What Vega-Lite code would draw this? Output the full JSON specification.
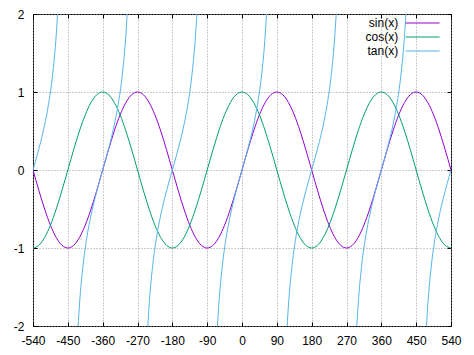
{
 "$schema": "https://vega.github.io/schema/vega-lite/v6.json",
 "width": 418, "height": 312,
 "autosize": {"type": "none"},
 "padding": {"left": 33, "top": 14, "right": 23, "bottom": 29},
 "background": "white",
 "config": {
  "font": "Liberation Sans",
  "view": {"stroke": "#000", "strokeWidth": 1},
  "axis": {"domain": false, "tickColor": "#000", "tickSize": -4, "labelOverlap": false, "labelFlush": false, "labelExpr": "'' + datum.value", "labelFont": "Liberation Sans", "labelFontSize": 12, "labelColor": "#000", "gridColor": "#999", "gridDash": [1, 2], "gridWidth": 1, "title": null},
  "legend": {"orient": "none", "legendX": 383.6, "legendY": 3, "symbolType": "M-5,0H5", "symbolSize": 46, "symbolStrokeWidth": 1, "labelAlign": "right", "labelOffset": -30.4, "labelFont": "Liberation Sans", "labelFontSize": 12, "labelColor": "#000", "padding": 0, "rowPadding": 2, "title": null}
 },
 "datasets": {
  "sc": [
   {"x":-540,"s":0,"c":-1},{"x":-525,"s":-0.2588,"c":-0.9659},{"x":-510,"s":-0.5,"c":-0.866},{"x":-495,"s":-0.7071,"c":-0.7071},{"x":-480,"s":-0.866,"c":-0.5},{"x":-465,"s":-0.9659,"c":-0.2588},{"x":-450,"s":-1,"c":0},{"x":-435,"s":-0.9659,"c":0.2588},{"x":-420,"s":-0.866,"c":0.5},{"x":-405,"s":-0.7071,"c":0.7071},{"x":-390,"s":-0.5,"c":0.866},{"x":-375,"s":-0.2588,"c":0.9659},
   {"x":-360,"s":0,"c":1},{"x":-345,"s":0.2588,"c":0.9659},{"x":-330,"s":0.5,"c":0.866},{"x":-315,"s":0.7071,"c":0.7071},{"x":-300,"s":0.866,"c":0.5},{"x":-285,"s":0.9659,"c":0.2588},{"x":-270,"s":1,"c":0},{"x":-255,"s":0.9659,"c":-0.2588},{"x":-240,"s":0.866,"c":-0.5},{"x":-225,"s":0.7071,"c":-0.7071},{"x":-210,"s":0.5,"c":-0.866},{"x":-195,"s":0.2588,"c":-0.9659},
   {"x":-180,"s":0,"c":-1},{"x":-165,"s":-0.2588,"c":-0.9659},{"x":-150,"s":-0.5,"c":-0.866},{"x":-135,"s":-0.7071,"c":-0.7071},{"x":-120,"s":-0.866,"c":-0.5},{"x":-105,"s":-0.9659,"c":-0.2588},{"x":-90,"s":-1,"c":0},{"x":-75,"s":-0.9659,"c":0.2588},{"x":-60,"s":-0.866,"c":0.5},{"x":-45,"s":-0.7071,"c":0.7071},{"x":-30,"s":-0.5,"c":0.866},{"x":-15,"s":-0.2588,"c":0.9659},
   {"x":0,"s":0,"c":1},{"x":15,"s":0.2588,"c":0.9659},{"x":30,"s":0.5,"c":0.866},{"x":45,"s":0.7071,"c":0.7071},{"x":60,"s":0.866,"c":0.5},{"x":75,"s":0.9659,"c":0.2588},{"x":90,"s":1,"c":0},{"x":105,"s":0.9659,"c":-0.2588},{"x":120,"s":0.866,"c":-0.5},{"x":135,"s":0.7071,"c":-0.7071},{"x":150,"s":0.5,"c":-0.866},{"x":165,"s":0.2588,"c":-0.9659},
   {"x":180,"s":0,"c":-1},{"x":195,"s":-0.2588,"c":-0.9659},{"x":210,"s":-0.5,"c":-0.866},{"x":225,"s":-0.7071,"c":-0.7071},{"x":240,"s":-0.866,"c":-0.5},{"x":255,"s":-0.9659,"c":-0.2588},{"x":270,"s":-1,"c":0},{"x":285,"s":-0.9659,"c":0.2588},{"x":300,"s":-0.866,"c":0.5},{"x":315,"s":-0.7071,"c":0.7071},{"x":330,"s":-0.5,"c":0.866},{"x":345,"s":-0.2588,"c":0.9659},
   {"x":360,"s":0,"c":1},{"x":375,"s":0.2588,"c":0.9659},{"x":390,"s":0.5,"c":0.866},{"x":405,"s":0.7071,"c":0.7071},{"x":420,"s":0.866,"c":0.5},{"x":435,"s":0.9659,"c":0.2588},{"x":450,"s":1,"c":0},{"x":465,"s":0.9659,"c":-0.2588},{"x":480,"s":0.866,"c":-0.5},{"x":495,"s":0.7071,"c":-0.7071},{"x":510,"s":0.5,"c":-0.866},{"x":525,"s":0.2588,"c":-0.9659},
   {"x":540,"s":0,"c":-1}
  ],
  "tan": [
   {"b":1,"x":-540,"t":0},{"b":1,"x":-530,"t":0.1763},{"b":1,"x":-520,"t":0.364},{"b":1,"x":-510,"t":0.5774},{"b":1,"x":-500,"t":0.8391},{"b":1,"x":-490,"t":1.1918},{"b":1,"x":-480,"t":1.7321},{"b":1,"x":-475,"t":2.1445},
   {"b":2,"x":-425,"t":-2.1445},{"b":2,"x":-420,"t":-1.7321},{"b":2,"x":-410,"t":-1.1918},{"b":2,"x":-400,"t":-0.8391},{"b":2,"x":-390,"t":-0.5774},{"b":2,"x":-380,"t":-0.364},{"b":2,"x":-370,"t":-0.1763},{"b":2,"x":-360,"t":0},{"b":2,"x":-350,"t":0.1763},{"b":2,"x":-340,"t":0.364},{"b":2,"x":-330,"t":0.5774},{"b":2,"x":-320,"t":0.8391},{"b":2,"x":-310,"t":1.1918},{"b":2,"x":-300,"t":1.7321},{"b":2,"x":-295,"t":2.1445},
   {"b":3,"x":-245,"t":-2.1445},{"b":3,"x":-240,"t":-1.7321},{"b":3,"x":-230,"t":-1.1918},{"b":3,"x":-220,"t":-0.8391},{"b":3,"x":-210,"t":-0.5774},{"b":3,"x":-200,"t":-0.364},{"b":3,"x":-190,"t":-0.1763},{"b":3,"x":-180,"t":0},{"b":3,"x":-170,"t":0.1763},{"b":3,"x":-160,"t":0.364},{"b":3,"x":-150,"t":0.5774},{"b":3,"x":-140,"t":0.8391},{"b":3,"x":-130,"t":1.1918},{"b":3,"x":-120,"t":1.7321},{"b":3,"x":-115,"t":2.1445},
   {"b":4,"x":-65,"t":-2.1445},{"b":4,"x":-60,"t":-1.7321},{"b":4,"x":-50,"t":-1.1918},{"b":4,"x":-40,"t":-0.8391},{"b":4,"x":-30,"t":-0.5774},{"b":4,"x":-20,"t":-0.364},{"b":4,"x":-10,"t":-0.1763},{"b":4,"x":0,"t":0},{"b":4,"x":10,"t":0.1763},{"b":4,"x":20,"t":0.364},{"b":4,"x":30,"t":0.5774},{"b":4,"x":40,"t":0.8391},{"b":4,"x":50,"t":1.1918},{"b":4,"x":60,"t":1.7321},{"b":4,"x":65,"t":2.1445},
   {"b":5,"x":115,"t":-2.1445},{"b":5,"x":120,"t":-1.7321},{"b":5,"x":130,"t":-1.1918},{"b":5,"x":140,"t":-0.8391},{"b":5,"x":150,"t":-0.5774},{"b":5,"x":160,"t":-0.364},{"b":5,"x":170,"t":-0.1763},{"b":5,"x":180,"t":0},{"b":5,"x":190,"t":0.1763},{"b":5,"x":200,"t":0.364},{"b":5,"x":210,"t":0.5774},{"b":5,"x":220,"t":0.8391},{"b":5,"x":230,"t":1.1918},{"b":5,"x":240,"t":1.7321},{"b":5,"x":245,"t":2.1445},
   {"b":6,"x":295,"t":-2.1445},{"b":6,"x":300,"t":-1.7321},{"b":6,"x":310,"t":-1.1918},{"b":6,"x":320,"t":-0.8391},{"b":6,"x":330,"t":-0.5774},{"b":6,"x":340,"t":-0.364},{"b":6,"x":350,"t":-0.1763},{"b":6,"x":360,"t":0},{"b":6,"x":370,"t":0.1763},{"b":6,"x":380,"t":0.364},{"b":6,"x":390,"t":0.5774},{"b":6,"x":400,"t":0.8391},{"b":6,"x":410,"t":1.1918},{"b":6,"x":420,"t":1.7321},{"b":6,"x":425,"t":2.1445},
   {"b":7,"x":475,"t":-2.1445},{"b":7,"x":480,"t":-1.7321},{"b":7,"x":490,"t":-1.1918},{"b":7,"x":500,"t":-0.8391},{"b":7,"x":510,"t":-0.5774},{"b":7,"x":520,"t":-0.364},{"b":7,"x":530,"t":-0.1763},{"b":7,"x":540,"t":0}
  ]
 },
 "layer": [
  {
   "data": {"name": "sc"},
   "mark": {"type": "line", "clip": true, "strokeWidth": 1, "interpolate": "monotone"},
   "encoding": {
    "x": {"field": "x", "type": "quantitative", "scale": {"domain": [-540, 540], "nice": false, "zero": false}, "axis": {"orient": "bottom", "values": [-540,-450,-360,-270,-180,-90,0,90,180,270,360,450,540], "grid": true, "labelPadding": 13}},
    "y": {"field": "s", "type": "quantitative", "scale": {"domain": [-2, 2], "nice": false}, "axis": {"orient": "left", "values": [-2,-1,0,1,2], "grid": true, "labelPadding": 13}},
    "color": {"datum": "sin(x)", "scale": {"domain": ["sin(x)", "cos(x)", "tan(x)"], "range": ["#9400d3", "#009e73", "#56b4e9"]}}
   }
  },
  {
   "data": {"name": "sc"},
   "mark": {"type": "line", "clip": true, "strokeWidth": 1, "interpolate": "monotone"},
   "encoding": {
    "x": {"field": "x", "type": "quantitative", "axis": null},
    "y": {"field": "c", "type": "quantitative", "axis": {"orient": "right", "values": [-2,-1,0,1,2], "grid": false, "labels": false}},
    "color": {"datum": "cos(x)"}
   }
  },
  {
   "data": {"name": "tan"},
   "mark": {"type": "line", "clip": true, "strokeWidth": 1, "interpolate": "monotone"},
   "encoding": {
    "x": {"field": "x", "type": "quantitative", "axis": {"orient": "top", "values": [-540,-450,-360,-270,-180,-90,0,90,180,270,360,450,540], "grid": false, "labels": false}},
    "y": {"field": "t", "type": "quantitative", "axis": null},
    "detail": {"field": "b", "type": "nominal"},
    "color": {"datum": "tan(x)"}
   }
  }
 ]
}
